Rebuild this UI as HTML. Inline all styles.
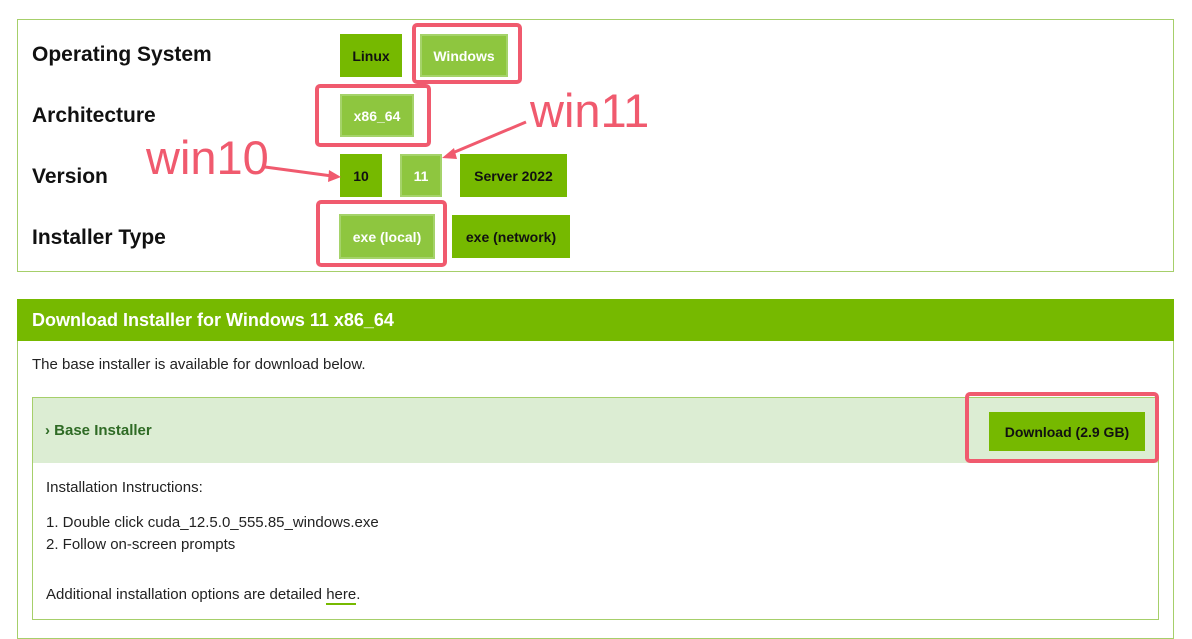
<!DOCTYPE html>
<html><head><meta charset="utf-8"><style>
*{margin:0;padding:0;box-sizing:border-box}
body{width:1192px;height:629px;background:#fff;position:relative;overflow:hidden;font-family:"Liberation Sans",sans-serif;color:#1a1a1a}
.a{position:absolute}
.lbl{position:absolute;left:32px;font-weight:bold;font-size:21px;color:#111}
.btn{position:absolute;background:#76b900;color:#111;font-weight:bold;font-size:14px;display:flex;align-items:center;justify-content:center;height:43px}
.sel{background:#8ec63f;color:#fff;border:2px solid #a5d36a}
.red{position:absolute;border:4px solid #f05a6e;border-radius:5px}
.t{position:absolute;font-size:15px;color:#222}
</style></head><body>
<div class="a" style="left:17px;top:19px;width:1157px;height:253px;border:1px solid #a6cf6a"></div>
<div class="lbl" style="top:43px">Operating System</div>
<div class="lbl" style="top:104px">Architecture</div>
<div class="lbl" style="top:165px">Version</div>
<div class="lbl" style="top:226px">Installer Type</div>
<div class="btn" style="left:340px;top:34px;width:62px">Linux</div>
<div class="btn sel" style="left:420px;top:34px;width:88px">Windows</div>
<div class="btn sel" style="left:340px;top:94px;width:74px">x86_64</div>
<div class="btn" style="left:340px;top:154px;width:42px">10</div>
<div class="btn sel" style="left:400px;top:154px;width:42px">11</div>
<div class="btn" style="left:460px;top:154px;width:107px">Server 2022</div>
<div class="btn sel" style="left:339px;top:214px;width:96px;height:45px">exe (local)</div>
<div class="btn" style="left:452px;top:215px;width:118px">exe (network)</div>
<div class="red" style="left:412px;top:23px;width:110px;height:61px"></div>
<div class="red" style="left:315px;top:84px;width:116px;height:63px"></div>
<div class="red" style="left:316px;top:200px;width:131px;height:67px"></div>
<div class="a" style="left:146px;top:133px;font-size:47px;color:#f05a6e;line-height:50px">win10</div>
<div class="a" style="left:530px;top:86px;font-size:47px;color:#f05a6e;line-height:50px">win11</div>
<svg class="a" style="left:0;top:0" width="1192" height="629">
<line x1="265" y1="167" x2="332" y2="176" stroke="#f05a6e" stroke-width="3"/>
<polygon points="341,177 329,170 328,182" fill="#f05a6e"/>
<line x1="526" y1="122" x2="450" y2="154" stroke="#f05a6e" stroke-width="3"/>
<polygon points="442,158 454,148 457,159" fill="#f05a6e"/>
</svg>
<div class="a" style="left:17px;top:299px;width:1157px;height:340px;border:1px solid #a6cf6a"></div>
<div class="a" style="left:17px;top:299px;width:1157px;height:42px;background:#76b900;color:#fff;font-weight:bold;font-size:18px;padding-left:15px;line-height:42px">Download Installer for Windows 11 x86_64</div>
<div class="t" style="left:32px;top:356px">The base installer is available for download below.</div>
<div class="a" style="left:32px;top:397px;width:1127px;height:223px;border:1px solid #a6cf6a"></div>
<div class="a" style="left:33px;top:398px;width:1125px;height:65px;background:#dcedd3"></div>
<div class="a" style="left:45px;top:422px;font-size:15px;font-weight:bold;color:#2f6b25">&#8250; Base Installer</div>
<div class="btn" style="left:989px;top:412px;width:156px;height:39px;font-size:14px">Download (2.9 GB)</div>
<div class="red" style="left:965px;top:392px;width:194px;height:71px"></div>
<div class="t" style="left:46px;top:479px">Installation Instructions:</div>
<div class="t" style="left:46px;top:514px">1. Double click cuda_12.5.0_555.85_windows.exe</div>
<div class="t" style="left:46px;top:536px">2. Follow on-screen prompts</div>
<div class="t" style="left:46px;top:586px">Additional installation options are detailed <span style="border-bottom:2px solid #76b900">here</span>.</div>
</body></html>
